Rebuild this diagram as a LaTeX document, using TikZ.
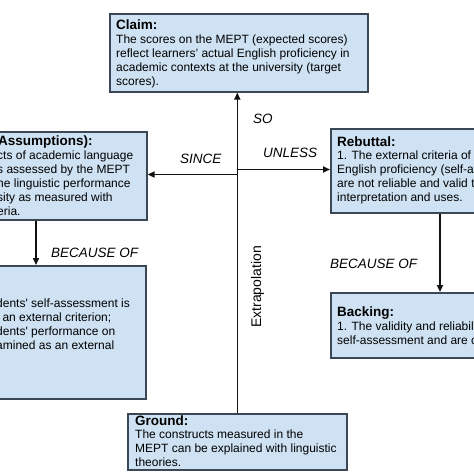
\documentclass[tikz,border=0pt]{standalone}
\usepackage{fontspec}
\setmainfont{Liberation Sans}
\usetikzlibrary{arrows.meta}
\definecolor{boxfill}{HTML}{CFE2F3}
\definecolor{boxline}{HTML}{3B4754}
\definecolor{lineblack}{HTML}{111111}
\tikzset{
  box/.style={draw=boxline, fill=boxfill, line width=1.6pt, inner sep=0pt, anchor=north west, rectangle},
  ttl/.style={anchor=base west, inner sep=0pt, font=\fontsize{13.5}{14}\selectfont\bfseries},
  body/.style={anchor=base west, inner sep=0pt, align=left, font=\fontsize{12}{14.1}\selectfont},
  lbl/.style={anchor=base west, inner sep=0pt, font=\fontsize{13.5}{16}\selectfont\itshape},
  conn/.style={draw=lineblack, line width=1.6pt, -{Triangle[length=7pt,width=6pt]}}
}
\begin{document}
\begin{tikzpicture}[x=1pt,y=-1pt]
\useasboundingbox (0,0) rectangle (474,474);
\clip (0,0) rectangle (474,474);
% boxes
\node[box, minimum width=258pt, minimum height=78pt] (claim) at (109,13) {};
\node[box, minimum width=186pt, minimum height=88pt] (warrant) at (-40,131) {};
\node[box, minimum width=185pt, minimum height=133pt] (lback) at (-40,265) {};
\node[box, minimum width=200pt, minimum height=84pt] (rebut) at (330,128) {};
\node[box, minimum width=200pt, minimum height=65pt] (rback) at (330,292) {};
\node[box, minimum width=219pt, minimum height=56pt] (ground) at (127,413) {};
% texts (body nodes are placed by the baseline of their last line)
\node[ttl] (claimT) at (116,29) {Claim:};
\node[body] (claimB) at (116,85.3) {The scores on the MEPT (expected scores)\\reflect learners’ actual English proficiency in\\academic contexts at the university (target\\scores).};
\node[ttl] (warrantT) at (-2,145) {Assumptions):};
\node[body] (warrantB) at (-3,215.4) {cts of academic language\\s assessed by the MEPT\\he linguistic performance\\sity as measured with\\eria.};
\node[body] (lbackB) at (-4,349.3) {dents\textquotesingle{} self-assessment is\\\hspace*{-3pt}s an external criterion;\\dents\textquotesingle{} performance on\\amined as an external};
\node[ttl] (rebutT) at (337,146) {Rebuttal:};
\node[body] (rebutB) at (337,201.3) {1. The external criteria of\\English proficiency (self-assessment)\\are not reliable and valid to\\interpretation and uses.};
\node[ttl] (rbackT) at (337,316) {Backing:};
\node[body] (rbackB) at (337,344.1) {1. The validity and reliability\\self-assessment and are confirmed};
\node[ttl] (groundT) at (135,425) {Ground:};
\node[body] (groundB) at (135,466.2) {The constructs measured in the\\MEPT can be explained with linguistic\\theories.};
% labels
\node[lbl] (so) at (253,123) {SO};
\node[lbl] (unless) at (263,157) {UNLESS};
\node[lbl] (since) at (180,163) {SINCE};
\node[lbl] (bcl) at (51,257) {BECAUSE OF};
\node[lbl] (bcr) at (330,268) {BECAUSE OF};
\node[inner sep=0pt, rotate=90, font=\fontsize{14}{16}\selectfont] (extra) at (257.5,287) {Extrapolation};
% connectors
\coordinate (jw) at (237,174.5);
\coordinate (jr) at (237,169.5);
\coordinate (wx) at (36,0);
\coordinate (rx) at (440,0);
\draw[conn] (ground.north) -- (ground.north |- claim.south);
\draw[conn] (jw) -- (jw -| warrant.east);
\draw[conn] (jr) -- (jr -| rebut.west);
\draw[conn] (wx |- warrant.south) -- (wx |- lback.north);
\draw[conn] (rx |- rebut.south) -- (rx |- rback.north);
\end{tikzpicture}
\end{document}
